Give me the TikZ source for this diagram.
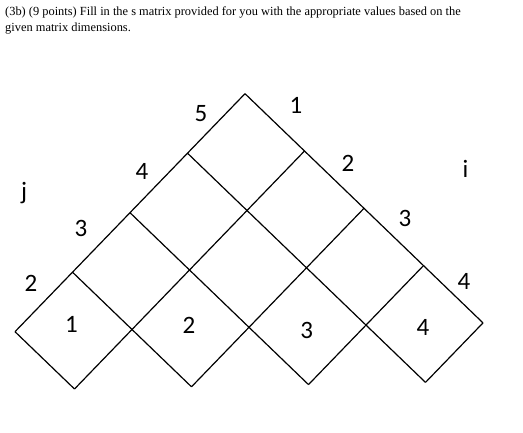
\documentclass[tikz,border=0pt]{standalone}
\usepackage{fontspec}
\setmainfont{Liberation Serif}
\newfontfamily\labelfont{Carlito}
\tikzset{
  gridline/.style={line width=1.2pt},
  idx/.style={font=\labelfont\fontsize{25}{30}\selectfont, inner sep=0pt},
  title/.style={anchor=base west, inner sep=0pt, font=\fontsize{12.4}{15}\selectfont},
}
\begin{document}
\begin{tikzpicture}[x=1pt,y=-1pt]
  \newcommand\ox{15}
  \newcommand\oy{331.7}
  \useasboundingbox (0,0) rectangle (523,433);
  \node[title] (title1) at (5,16) {(3b) (9 points) Fill in the s matrix provided for you with the appropriate values based on the};
  \node[title] (title2) at (5,31.5) {given matrix dimensions.};

  % grid: x runs up the left edge, y runs down the right edge
  \begin{scope}[shift={(\ox,\oy)}, x={(57.5pt,59.5pt)}, y={(59.5pt,-57.3pt)}]
    \draw[gridline](0,0)--(4,0);
    \draw[gridline](0,1)--(4,1);
    \draw[gridline](1,2)--(4,2);
    \draw[gridline](2,3)--(4,3);
    \draw[gridline](3,4)--(4,4);
    \draw[gridline](0,0)--(0,1);
    \draw[gridline](1,0)--(1,2);
    \draw[gridline](2,0)--(2,3);
    \draw[gridline](3,0)--(3,4);
    \draw[gridline](4,0)--(4,4);
  \end{scope}

  % j index along the left edge
  \node[idx, anchor=base] (jname) at (24,200) {j};
  \node[idx] (j2) at (31,283) {2};
  \node[idx] (j3) at (81,228.5) {3};
  \node[idx] (j4) at (142,171) {4};
  \node[idx] (j5) at (201,114) {5};
  % i index along the right edge
  \node[idx, anchor=base] (iname) at (465.5,177.7) {i};
  \node[idx] (i1) at (296,105) {1};
  \node[idx] (i2) at (348,163.3) {2};
  \node[idx] (i3) at (405,218) {3};
  \node[idx] (i4) at (464,281) {4};
  % diagonal cells
  \node[idx] (d1) at (71.5,324.7) {1};
  \node[idx] (d2) at (189,325.5) {2};
  \node[idx] (d3) at (306.7,330) {3};
  \node[idx] (d4) at (423,327.5) {4};
\end{tikzpicture}
\end{document}
